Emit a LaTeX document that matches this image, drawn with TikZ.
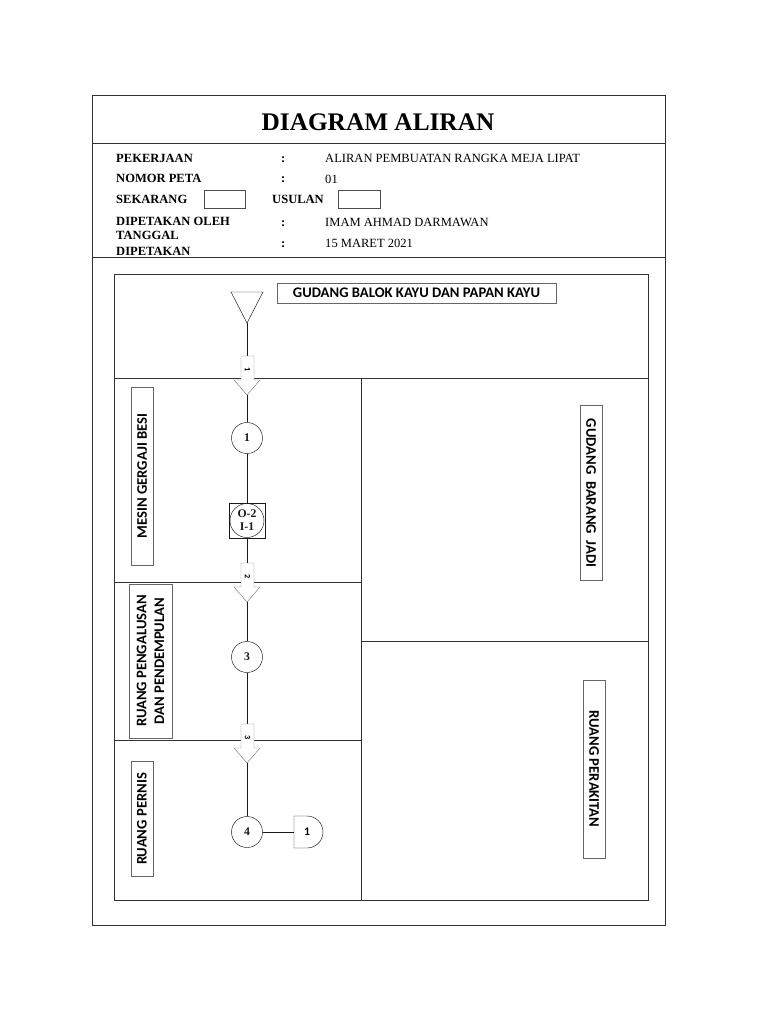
\documentclass[tikz,border=0pt]{standalone}
\usepackage{fontspec}
\setmainfont{Liberation Serif}
\newfontfamily\labelfont{Carlito}
\usetikzlibrary{positioning}

% panah blok bernomor: nama, y atas, nomor
\newcommand{\panahblok}[3]{%
\draw [black!50, fill=white] (241,#2) -- (254,#2) -- (254,#2+24) -- (260,#2+24) -- (247,#2+39) -- (234,#2+24) -- (241,#2+24) -- cycle;
\coordinate (#1atas) at (247,#2);
\coordinate (#1ujung) at (247,#2+39);
\node [rotate=-90, font=\labelfont\bfseries\fontsize{7}{7}\selectfont] at (247.5,#2+14) {#3};
}

\begin{document}
\begin{tikzpicture}[x=0.03cm, y=-0.03cm,
  garis/.style={black!80, line width=0.7pt},
  kepala/.style={anchor=base west, inner sep=0pt, font=\bfseries\fontsize{10.7}{11}\selectfont},
  isian/.style={anchor=base west, inner sep=0pt, font=\fontsize{10.7}{11}\selectfont},
  labelbox/.style={draw=black!60, fill=white, inner sep=0pt, align=center, font=\labelfont\bfseries\fontsize{12.5}{13.5}\selectfont},
  operasi/.style={circle, draw, black!90, minimum size=0.93cm, inner sep=0pt, font=\bfseries\fontsize{10}{10}\selectfont}]
\useasboundingbox (0,0) rectangle (768,1024);
\fill [white] (0,0) rectangle (768,1024);

% kepala peta
\draw [garis] (92,95) rectangle (665,925);
\draw [garis] (92,143) -- (665,143);
\draw [garis] (92,257) -- (665,257);
\node [font=\bfseries\fontsize{21.6}{22}\selectfont] (judul) at (378,122) {DIAGRAM ALIRAN};

\node [kepala] (pekerjaan) at (116,162) {PEKERJAAN};
\node [kepala] (nomor) at (116,182) {NOMOR PETA};
\node [kepala] (sekarang) at (116,203) {SEKARANG};
\node [kepala] (usulan) at (272,203) {USULAN};
\node [kepala] (oleh) at (116,225) {DIPETAKAN OLEH};
\node [kepala] (tanggal) at (116,239) {TANGGAL};
\node [kepala] (dipetakan) at (116,255) {DIPETAKAN};
\node [kepala] (t1) at (281,162) {:};
\node [kepala] (t2) at (281,182) {:};
\node [kepala] (t3) at (281,226) {:};
\node [kepala] (t4) at (281,247) {:};
\node [isian] (v1) at (325,162) {ALIRAN PEMBUATAN RANGKA MEJA LIPAT};
\node [isian] (v2) at (325,183) {01};
\node [isian] (v3) at (325,226) {IMAM AHMAD DARMAWAN};
\node [isian] (v4) at (325,247) {15 MARET 2021};
\draw [black!70] (204,190) rectangle (245,208);
\draw [black!70] (338,190) rectangle (380,208);

% ruang-ruang
\draw [garis] (114,274) rectangle (648,900);
\draw [garis] (114,378) -- (648,378);
\draw [garis] (361,378) -- (361,900);
\draw [garis] (114,582) -- (361,582);
\draw [garis] (114,740) -- (361,740);
\draw [garis] (361,641) -- (648,641);

\node [labelbox, minimum width=8.37cm, minimum height=0.6cm] (balok) at (416.5,293) {GUDANG BALOK KAYU DAN PAPAN KAYU};
\node [labelbox, rotate=90, minimum width=5.34cm, minimum height=0.66cm] (gergaji) at (142,476) {MESIN GERGAJI BESI};
\node [labelbox, rotate=90, minimum width=4.62cm, minimum height=1.29cm, font=\labelfont\bfseries\fontsize{12.5}{15}\selectfont] (pengalusan) at (150.5,661) {RUANG PENGALUSAN\\DAN PENDEMPULAN};
\node [labelbox, rotate=90, minimum width=3.45cm, minimum height=0.66cm] (pernis) at (142,819) {RUANG PERNIS};
\node [labelbox, rotate=-90, minimum width=5.25cm, minimum height=0.66cm] (jadi) at (591,493) {GUDANG\ \ BARANG\ \ JADI};
\node [labelbox, rotate=-90, minimum width=5.34cm, minimum height=0.66cm] (perakitan) at (594,769) {RUANG PERAKITAN};

% aliran
\draw [black!90] (231,292) -- (263,292) -- (247,323) -- cycle;
\coordinate (gudang) at (247,323);
\node [operasi] (op1) at (247,438) {1};
\draw [black!90] (229,503) rectangle (265,538);
\node [operasi, minimum size=1.02cm, align=center, font=\bfseries\fontsize{10}{11}\selectfont] (gab) at (247,520.5) {O-2\\I-1};
\node [operasi] (op3) at (247,657) {3};
\node [operasi] (op4) at (247,832) {4};
\draw [black!90] (294,816) -- (307,816) arc (-90:90:16) -- (294,848) -- cycle;
\coordinate (tunda) at (294,832);
\node [font=\labelfont\bfseries\fontsize{10}{10}\selectfont] (simpan) at (307,832) {1};

\draw [black!90] (gudang) -- (247,356);
\draw [black!90] (247,395) -- (op1);
\draw [black!90] (op1) -- (gab);
\draw [black!90] (247,538) -- (247,563);
\draw [black!90] (247,602) -- (op3);
\draw [black!90] (op3) -- (247,724);
\draw [black!90] (247,763) -- (op4);
\draw [black!90] (op4) -- (tunda);

\panahblok{p1}{356}{1}
\panahblok{p2}{563}{2}
\panahblok{p3}{724}{3}
\end{tikzpicture}
\end{document}
